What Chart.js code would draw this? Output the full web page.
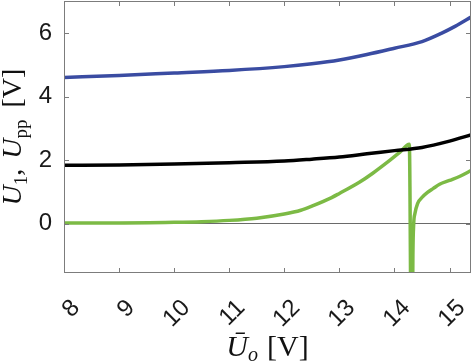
<!DOCTYPE html>
<html><head><meta charset="utf-8">
<script src="https://cdn.jsdelivr.net/npm/chart.js@4/dist/chart.umd.min.js"></script>
<style>html,body{margin:0;padding:0;background:#fff;overflow:hidden}#wrap{width:474px;height:364px;position:relative}</style>
</head><body><div id="wrap"><canvas id="c"></canvas></div>
<script>
const xTicks = [8, 9, 10, 11, 12, 13, 14, 15];
const yTicks = [0, 2, 4, 6];
const blueX = [8, 9, 10, 11, 12, 12.5, 13, 13.5, 14, 14.5, 14.85, 15.1, 15.4];
const blueY = [4.61, 4.67, 4.75, 4.83, 4.95, 5.04, 5.16, 5.33, 5.53, 5.74, 6.0, 6.22, 6.52];
const blackX = [8, 9, 10, 11, 12, 12.5, 13, 13.5, 14, 14.5, 15, 15.4];
const blackY = [1.84, 1.85, 1.88, 1.92, 1.97, 2.03, 2.1, 2.2, 2.3, 2.4, 2.6, 2.8];
const greenX = [8, 9, 10, 10.5, 11, 11.5, 12, 12.3, 12.5, 12.86, 13, 13.37, 13.6, 13.92, 14.1, 14.27, 14.315, 14.335, 14.35, 14.37, 14.42, 14.51, 14.6, 14.7, 14.82, 15, 15.2, 15.4];
const greenY = [0.02, 0.02, 0.04, 0.06, 0.1, 0.17, 0.3, 0.42, 0.55, 0.82, 0.95, 1.31, 1.58, 2.0, 2.25, 2.5, -6, -1.0, 0.0, 0.3, 0.63, 0.84, 0.98, 1.1, 1.24, 1.36, 1.5, 1.68];

const pts = (xs, ys) => xs.map((x, i) => ({x: x, y: ys[i]}));
const AX = '#7c7c7c';

const framePlugin = {
  id: 'frame',
  afterDraw(chart) {
    const ctx = chart.ctx, a = chart.chartArea;
    const xs = chart.scales.x, ys = chart.scales.y;
    ctx.save();
    ctx.strokeStyle = AX; ctx.lineWidth = 1;
    ctx.strokeRect(Math.round(a.left) + 0.5, Math.round(a.top) + 0.5, Math.round(a.right - a.left) - 1, Math.round(a.bottom - a.top) - 1);
    ctx.beginPath();
    const L = 5;
    xTicks.forEach(v => {
      const p = Math.round(xs.getPixelForValue(v)) + 0.5;
      ctx.moveTo(p, a.bottom); ctx.lineTo(p, a.bottom - L);
      ctx.moveTo(p, a.top); ctx.lineTo(p, a.top + L);
    });
    yTicks.forEach(v => {
      const p = Math.round(ys.getPixelForValue(v)) + 0.5;
      ctx.moveTo(a.left, p); ctx.lineTo(a.left + L, p);
      ctx.moveTo(a.right, p); ctx.lineTo(a.right - L, p);
    });
    ctx.stroke();
    ctx.restore();
  }
};

function drawParts(ctx, parts, x0, y0) {
  let x = x0;
  parts.forEach(p => {
    ctx.font = p.f;
    ctx.fillText(p.t, x, y0 + (p.dy || 0));
    x += ctx.measureText(p.t).width + (p.gap || 0);
  });
}
function partsWidth(ctx, parts) {
  let w = 0;
  parts.forEach(p => { ctx.font = p.f; w += ctx.measureText(p.t).width + (p.gap || 0); });
  return w;
}

const titlePlugin = {
  id: 'titles',
  afterDraw(chart) {
    const ctx = chart.ctx, a = chart.chartArea;
    const big = 'italic 28px "Liberation Serif"', up = '28px "Liberation Serif"';
    const sub = '19px "Liberation Serif"';
    const bigX = 'italic 30px "Liberation Serif"', upX = '30px "Liberation Serif"', subIX = 'italic 20px "Liberation Serif"';
    ctx.save();
    ctx.fillStyle = '#111';
    ctx.textBaseline = 'alphabetic';
    ctx.textAlign = 'left';
    const yParts = [
      {t: 'U', f: big}, {t: '1', f: sub, dy: 6}, {t: ',', f: up, gap: 10},
      {t: 'U', f: big}, {t: 'pp', f: sub, dy: 6, gap: 12}, {t: '[V]', f: up}
    ];
    const wy = partsWidth(ctx, yParts);
    ctx.save();
    ctx.translate(21, (a.top + a.bottom) / 2);
    ctx.rotate(-Math.PI / 2);
    drawParts(ctx, yParts, -wy / 2, 0);
    ctx.restore();
    const xParts = [
      {t: '\u016A', f: bigX}, {t: 'o', f: subIX, dy: 5, gap: 9}, {t: '[V]', f: upX}
    ];
    const wx = partsWidth(ctx, xParts);
    drawParts(ctx, xParts, (a.left + a.right) / 2 - wx / 2, 356);
    ctx.restore();
  }
};

const tickFont = {family: '"Liberation Sans", Arial, sans-serif', size: 24};

new Chart(document.getElementById('c'), {
  type: 'line',
  data: {
    datasets: [
      {data: pts(blueX, blueY), borderColor: '#3a4ca2', borderWidth: 3.5, pointRadius: 0, cubicInterpolationMode: 'monotone', clip: 0},
      {data: pts(blackX, blackY), borderColor: '#000000', borderWidth: 3.5, pointRadius: 0, cubicInterpolationMode: 'monotone', clip: 0},
      {data: pts(greenX, greenY), borderColor: '#7cba45', borderWidth: 3.5, pointRadius: 0, cubicInterpolationMode: 'monotone', clip: 0}
    ]
  },
  options: {
    responsive: true, maintainAspectRatio: false, animation: false,
    layout: {padding: {top: 1, right: 3, left: 0, bottom: 0}},
    plugins: {legend: {display: false}, tooltip: {enabled: false}},
    scales: {
      x: {
        type: 'linear', min: 8, max: 15.39,
        afterBuildTicks: s => { s.ticks = xTicks.map(v => ({value: v})); },
        afterFit: s => { s.height = 91; s.paddingLeft = 0; s.paddingRight = 0; },
        grid: {display: false, drawTicks: false}, border: {display: false},
        ticks: {minRotation: 45, maxRotation: 45, autoSkip: false, font: tickFont, color: '#1a1a1a', padding: 21, labelOffset: 12}
      },
      y: {
        type: 'linear', min: -1.56, max: 7.02,
        afterBuildTicks: s => { s.ticks = yTicks.map(v => ({value: v})); },
        afterFit: s => { s.width = 64; s.paddingTop = 0; s.paddingBottom = 0; },
        grid: {drawTicks: false, lineWidth: 1, color: c => (c.tick && c.tick.value === 0) ? '#6a6a6a' : 'rgba(0,0,0,0)'},
        border: {display: false},
        ticks: {font: tickFont, color: '#1a1a1a', padding: 12}
      }
    }
  },
  plugins: [framePlugin, titlePlugin]
});
</script>
</body></html>
